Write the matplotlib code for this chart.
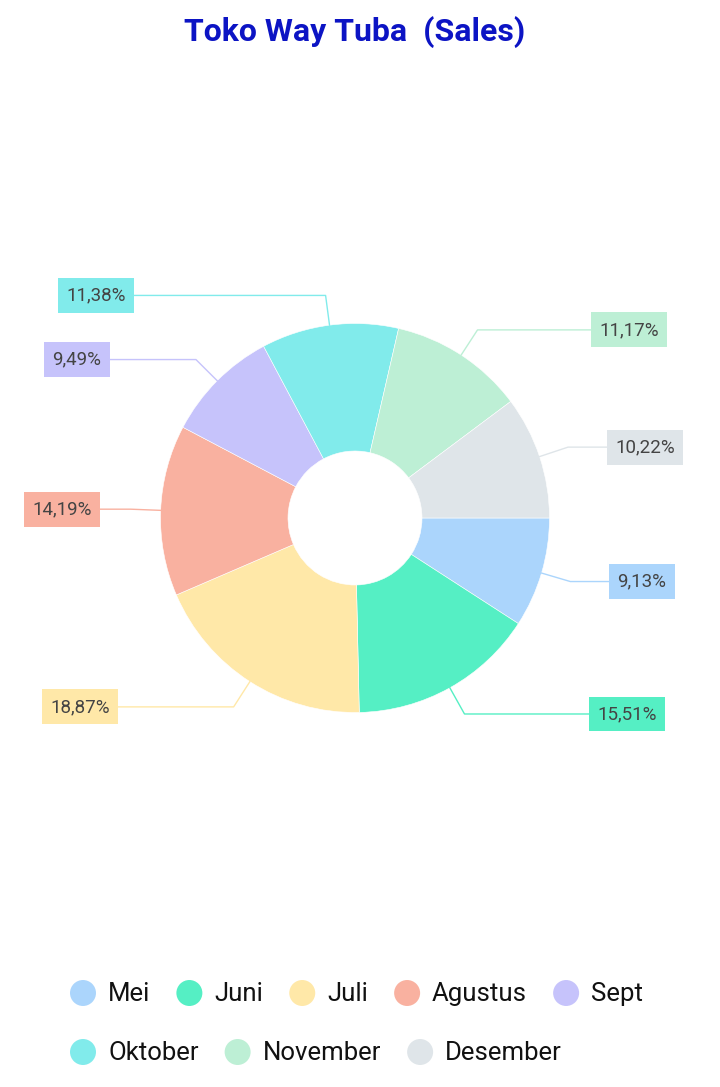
import matplotlib
matplotlib.use("Agg")
import matplotlib.pyplot as plt
import numpy as np

months = ["Mei", "Juni", "Juli", "Agustus", "Sept", "Oktober", "November", "Desember"]
shares = [9.13, 15.51, 18.87, 14.19, 9.49, 11.38, 11.17, 10.22]
colors = ["#abd5fc", "#55efc4", "#ffe8a8", "#f9b1a0", "#c6c3fb", "#81ebeb", "#bdefd5", "#dfe5e9"]
label_x = [642, 627, 80, 62, 77, 96, 629, 645]  # x centre of each % box

plt.rcParams['font.family'] = ['Roboto', 'DejaVu Sans']

fig = plt.figure(figsize=(7.2, 10.87), dpi=100)
ax = fig.add_axes([0, 0, 1, 1])

# work in pixel coords, y pointing down
cx, cy = 355, 518
r_out, r_in = 194.5, 67

wedges, _ = ax.pie(shares, colors=colors, startangle=0, counterclock=True,
                   center=(cx, cy), radius=r_out,
                   wedgeprops=dict(width=r_out - r_in, edgecolor='white', linewidth=0.4))
ax.set_xlim(0, 720)
ax.set_ylim(1087, 0)
ax.set_aspect('equal')
ax.axis('off')

# percentage boxes with elbow leader lines
for w, pct, lx, c in zip(wedges, shares, label_x, colors):
    ang = np.deg2rad((w.theta1 + w.theta2) / 2)
    d = np.array([np.cos(ang), np.sin(ang)])
    p0 = np.array([cx, cy]) + d * r_out
    p1 = np.array([cx, cy]) + d * (r_out + 30)
    ax.plot([p0[0], p1[0], lx], [p0[1], p1[1], p1[1]], color=c, lw=1, zorder=1)
    ax.text(lx, p1[1], ("%.2f%%" % pct).replace('.', ','), fontsize=13.5, color='#444444',
            ha='center', va='center', zorder=5,
            bbox=dict(boxstyle='square,pad=0.45', facecolor=c, edgecolor='none'))

ax.text(cx, 32, "Toko Way Tuba  (Sales)", fontsize=23, fontweight='bold',
        color='#0c14c4', ha='center', va='center')

# legend, flowing left to right
fig.canvas.draw()
renderer = fig.canvas.get_renderer()
x, y = 70, 993
for name, c in zip(months, colors):
    t = ax.text(0, 0, name, fontsize=18.5, color='#111111', ha='left', va='center')
    tw = t.get_window_extent(renderer).width
    item_w = 38 + tw
    if x + item_w > 665:
        x = 70
        y += 59
    ax.scatter([x + 13], [y], s=350, color=c, edgecolors='none', zorder=3)
    t.set_position((x + 38, y + 1))
    x += item_w + 26

fig.savefig("out.png", dpi=100)
